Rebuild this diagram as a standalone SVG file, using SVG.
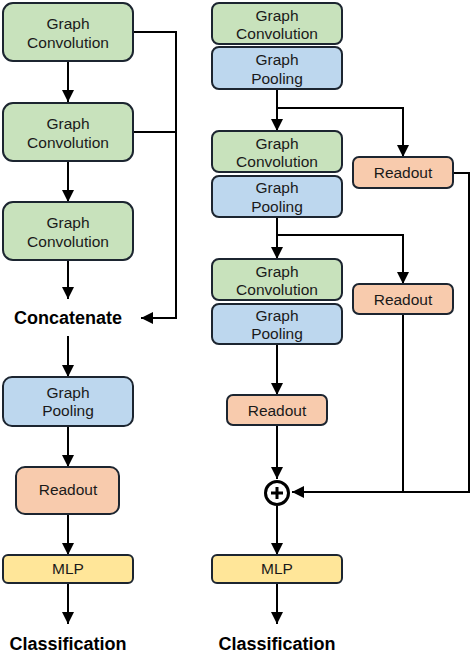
<svg xmlns="http://www.w3.org/2000/svg" width="474" height="653" viewBox="0 0 474 653">
<style>
.n{stroke:#1c2530;stroke-width:2}
.gc{fill:#c8e2bc}
.gp{fill:#bdd7ee}
.ro{fill:#f8cbad}
.mlp{fill:#ffe699}
.t{font-family:"Liberation Sans",Arial,sans-serif;font-size:15.5px;fill:#1a1a1a;text-anchor:middle}
.b{font-family:"Liberation Sans",Arial,sans-serif;font-size:18px;font-weight:bold;fill:#000;text-anchor:middle}
.c{fill:none;stroke:#000;stroke-width:2}
</style>
<defs>
<marker id="ah" markerWidth="12" markerHeight="12" viewBox="0 0 12 12" refX="12" refY="6" orient="auto" markerUnits="userSpaceOnUse">
<path d="M0,0 L12,6 L0,12 Z" fill="#000"/>
</marker>
</defs>
<g id="connectors">
<path class="c" d="M68,61 V102" marker-end="url(#ah)"/>
<path class="c" d="M68,161 V202" marker-end="url(#ah)"/>
<path class="c" d="M68,260 V299" marker-end="url(#ah)"/>
<path class="c" d="M133,32 H176 V318 H141" marker-end="url(#ah)"/>
<path class="c" d="M133,132 H176"/>
<path class="c" d="M68,336 V377" marker-end="url(#ah)"/>
<path class="c" d="M68,426 V467" marker-end="url(#ah)"/>
<path class="c" d="M68,514 V555" marker-end="url(#ah)"/>
<path class="c" d="M68,583 V624" marker-end="url(#ah)"/>
<path class="c" d="M277,89 V131" marker-end="url(#ah)"/>
<path class="c" d="M277,108 H403 V157" marker-end="url(#ah)"/>
<path class="c" d="M277,217 V259" marker-end="url(#ah)"/>
<path class="c" d="M277,235 H403 V284" marker-end="url(#ah)"/>
<path class="c" d="M453,173 H469 V492 H292" marker-end="url(#ah)"/>
<path class="c" d="M403,314 V492"/>
<path class="c" d="M277,344 V395" marker-end="url(#ah)"/>
<path class="c" d="M277,425 V479" marker-end="url(#ah)"/>
<path class="c" d="M277,506 V555" marker-end="url(#ah)"/>
<path class="c" d="M277,583 V624" marker-end="url(#ah)"/>
</g>
<g id="l-gc1"><rect class="n gc" x="3" y="3" width="130" height="58" rx="10"/><text class="t" x="68" y="29">Graph</text><text class="t" x="68" y="48">Convolution</text></g>
<g id="l-gc2"><rect class="n gc" x="3" y="103" width="130" height="58" rx="10"/><text class="t" x="68" y="129">Graph</text><text class="t" x="68" y="148">Convolution</text></g>
<g id="l-gc3"><rect class="n gc" x="3" y="202" width="130" height="58" rx="10"/><text class="t" x="68" y="228">Graph</text><text class="t" x="68" y="247">Convolution</text></g>
<g id="l-concat"><text class="b" x="68" y="324">Concatenate</text></g>
<g id="l-gp"><rect class="n gp" x="3" y="377" width="130" height="49" rx="9"/><text class="t" x="68" y="398">Graph</text><text class="t" x="68" y="416">Pooling</text></g>
<g id="l-ro"><rect class="n ro" x="16" y="467" width="103" height="47" rx="9"/><text class="t" x="68" y="495">Readout</text></g>
<g id="l-mlp"><rect class="n mlp" x="3" y="555" width="130" height="28" rx="5"/><text class="t" x="68" y="574">MLP</text></g>
<g id="l-class"><text class="b" x="68" y="650">Classification</text></g>
<g id="r-gc1"><rect class="n gc" x="212" y="3" width="130" height="41" rx="7"/><text class="t" x="277" y="21">Graph</text><text class="t" x="277" y="39">Convolution</text></g>
<g id="r-gp1"><rect class="n gp" x="212" y="47" width="130" height="42" rx="7"/><text class="t" x="277" y="65">Graph</text><text class="t" x="277" y="84">Pooling</text></g>
<g id="r-gc2"><rect class="n gc" x="212" y="131" width="130" height="41" rx="7"/><text class="t" x="277" y="149">Graph</text><text class="t" x="277" y="167">Convolution</text></g>
<g id="r-gp2"><rect class="n gp" x="212" y="176" width="130" height="41" rx="7"/><text class="t" x="277" y="193">Graph</text><text class="t" x="277" y="212">Pooling</text></g>
<g id="r-ro1"><rect class="n ro" x="353" y="157" width="100" height="31" rx="6"/><text class="t" x="403" y="178">Readout</text></g>
<g id="r-gc3"><rect class="n gc" x="212" y="259" width="130" height="41" rx="7"/><text class="t" x="277" y="277">Graph</text><text class="t" x="277" y="295">Convolution</text></g>
<g id="r-gp3"><rect class="n gp" x="212" y="304" width="130" height="40" rx="7"/><text class="t" x="277" y="321">Graph</text><text class="t" x="277" y="339">Pooling</text></g>
<g id="r-ro2"><rect class="n ro" x="353" y="284" width="100" height="30" rx="6"/><text class="t" x="403" y="305">Readout</text></g>
<g id="r-ro3"><rect class="n ro" x="227" y="395" width="100" height="30" rx="6"/><text class="t" x="277" y="416">Readout</text></g>
<g id="r-sum"><circle cx="277" cy="493" r="11.5" fill="#fff" stroke="#000" stroke-width="3"/><path d="M271,493 H283 M277,487 V499" stroke="#000" stroke-width="3"/></g>
<g id="r-mlp"><rect class="n mlp" x="212" y="555" width="130" height="28" rx="5"/><text class="t" x="277" y="574">MLP</text></g>
<g id="r-class"><text class="b" x="277" y="650">Classification</text></g>
</svg>
